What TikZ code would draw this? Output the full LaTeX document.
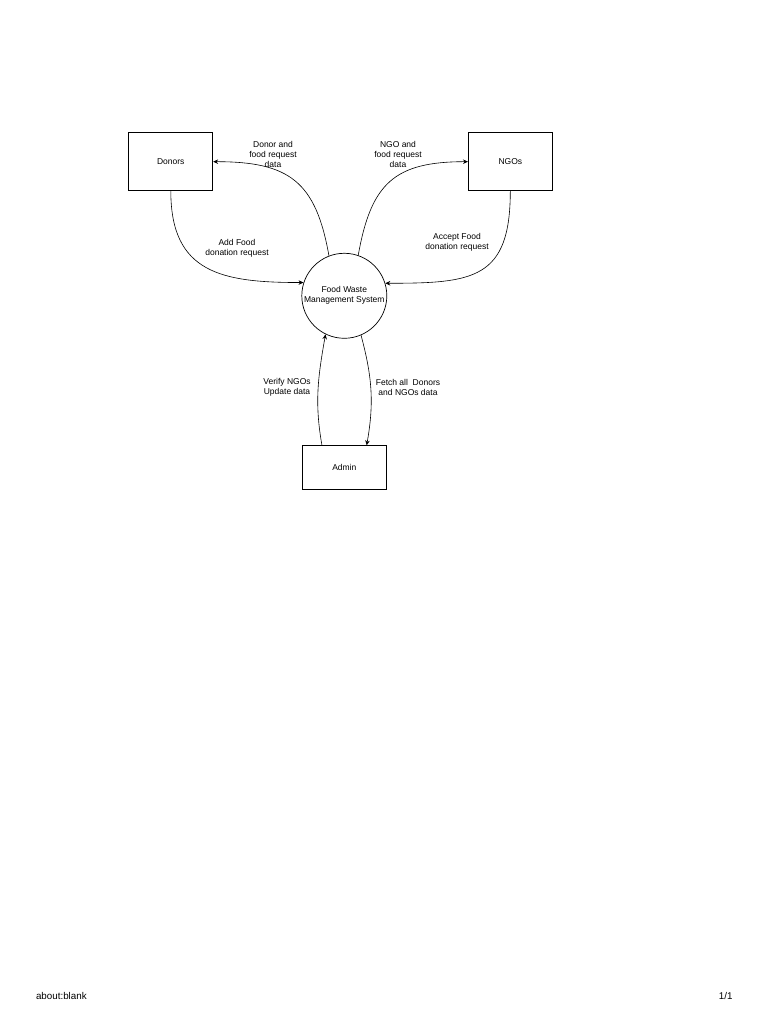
\documentclass[tikz,border=0pt]{standalone}
\usepackage{fontspec}
\setmainfont{Liberation Sans}
\usetikzlibrary{arrows.meta,positioning,shapes}
\tikzset{
  entity/.style={draw,rectangle,minimum width=84pt,minimum height=58pt,line width=0.7pt},
  process/.style={draw,circle,minimum size=85pt,inner sep=0pt,align=center,line width=0.7pt},
  flow/.style={line width=0.6pt,-{Stealth[length=5pt,width=4.5pt]}},
  flowlabel/.style={align=center,inner sep=0pt},
}

\begin{document}
\begin{tikzpicture}
[x=1pt,y=1pt,node distance=106.7pt,font=\fontsize{8.5}{10}\selectfont]
\useasboundingbox (0,0) rectangle (768,1024);
%% process
\node[process] (F) at (344.3,728.2) {Food Waste\\ Management System};
%% external entities
\node[entity] (D) at (170.8,862.3) {Donors};
\node[entity] (N) at (510.3,862.3) {NGOs};
\node[entity,minimum height=44pt,below=of F] (A) {Admin};
%% flows
\draw[flow] (F.111) to[out=100,in=0,looseness=1.3] (D.east);
\draw[flow] (F.71) to[out=80,in=180,looseness=1.3] (N.west);
\draw[flow] (D.south) to[out=-90,in=180,looseness=1.3] (F.162);
\draw[flow] (N.south) to[out=-90,in=0,looseness=1.45] (F.17);
\draw[flow] (A.135) to[out=100,in=-100] (F.244);
\draw[flow] (F.-67) to[out=-75,in=80] (A.45);
%% flow labels
\node[flowlabel] (LD) at (273,870) {Donor and\\ food request\\ data};
\node[flowlabel] (LN) at (398,870) {NGO and\\ food request\\ data};
\node[flowlabel] (LAdd) at (237,775.5) {Add Food\\ donation request};
\node[flowlabel] (LAcc) at (457,782) {Accept Food\\ donation request};
\node[flowlabel] (LVer) at (287,637) {Verify NGOs\\ Update data};
\node[flowlabel] (LFet) at (408,637) {Fetch all\ \ Donors\\ and NGOs data};
%% page footer
\node[anchor=west,font=\fontsize{9.8}{12}\selectfont] (url) at (32.5,28) {about:blank};
\node[anchor=east,font=\fontsize{9.8}{12}\selectfont] (pg) at (736,28) {1/1};
\end{tikzpicture}
\end{document}
